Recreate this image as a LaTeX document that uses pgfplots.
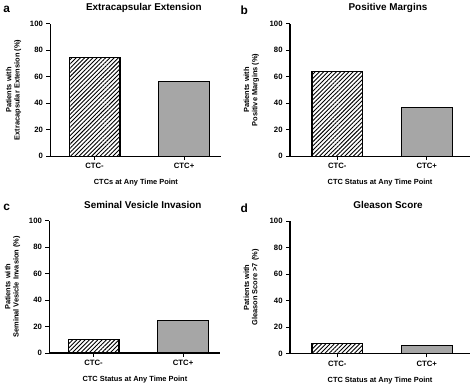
\documentclass[border=0pt]{standalone}
\usepackage{pgfplots}
\pgfplotsset{compat=1.18}
\usepackage{fontspec}
\setmainfont{Liberation Sans}
\usetikzlibrary{patterns.meta}
\definecolor{bargray}{HTML}{A6A6A6}
\pgfplotsset{
  panel/.style={
    scale only axis,
    height=133bp,
    axis lines=left,
    axis line style={-, line width=1.2bp},
    enlargelimits=false,
    ymin=0, ymax=100,
    ytick={0,20,40,60,80,100},
    xtick={1,2},
    xticklabels={CTC-,CTC+},
    tick align=outside,
    major tick length=4bp,
    tick style={line width=1bp, black},
    ybar, bar width=51bp, bar shift=0pt,
    /pgf/number format/assume math mode=true,
    ticklabel style={font=\fontsize{7.8}{9}\selectfont\bfseries},
    label style={font=\fontsize{7.5}{8.4}\selectfont\bfseries},
    ylabel style={align=center, at={(axis description cs:-0.215,0.5)}, anchor=center, rotate=0},
    xlabel style={at={(axis description cs:0.5,0)}, anchor=center, yshift=-27bp},
    title style={font=\fontsize{10}{11}\selectfont\bfseries, at={(axis description cs:0.5,1)}, anchor=center, yshift=10bp, xshift=8bp},
  },
  narrow/.style={width=172bp, xmin=0.506, xmax=2.417},
  wide/.style={width=181bp, xmin=0.472, xmax=2.483},
  hatchbar/.style={draw=black, line width=1.2bp, pattern={Lines[angle=45,distance=3bp,line width=0.9bp]}},
  graybar/.style={draw=black, line width=1.2bp, fill=bargray},
}
\begin{document}
\begin{tikzpicture}
\path (0,0) rectangle (474bp,-384bp);
% a
\begin{axis}[panel, narrow, at={(48bp,-154bp)}, anchor=origin,
  title={Extracapsular Extension},
  ylabel={Patients with\\Extracapsular Extension (\%)},
  xlabel={CTCs at Any Time Point}]
\addplot[hatchbar] coordinates {(1,74.4)};
\addplot[graybar] coordinates {(2,56.2)};
\end{axis}
% b
\begin{axis}[panel, wide, at={(289bp,-154bp)}, anchor=origin,
  title={Positive Margins},
  ylabel={Patients with\\Positive Margins (\%)},
  xlabel={CTC Status at Any Time Point}]
\addplot[hatchbar] coordinates {(1,63.8)};
\addplot[graybar] coordinates {(2,36.8)};
\end{axis}
% c
\begin{axis}[panel, narrow, at={(47bp,-352bp)}, anchor=origin,
  title={Seminal Vesicle Invasion},
  ylabel={Patients with\\Seminal Vesicle Invasion (\%)},
  xlabel={CTC Status at Any Time Point}]
\addplot[hatchbar] coordinates {(1,10)};
\addplot[graybar] coordinates {(2,24.8)};
\end{axis}
% d
\begin{axis}[panel, wide, at={(289bp,-352.5bp)}, anchor=origin,
  title={Gleason Score},
  ylabel={Patients with\\Gleason Score >7 (\%)},
  xlabel={CTC Status at Any Time Point}]
\addplot[hatchbar] coordinates {(1,7.4)};
\addplot[graybar] coordinates {(2,6.2)};
\end{axis}
\node[font=\fontsize{12}{13}\selectfont\bfseries, anchor=center] at (4bp,-6bp) {a};
\node[font=\fontsize{12}{13}\selectfont\bfseries, anchor=center] at (243bp,-7bp) {b};
\node[font=\fontsize{12}{13}\selectfont\bfseries, anchor=center] at (4bp,-206bp) {c};
\node[font=\fontsize{12}{13}\selectfont\bfseries, anchor=center] at (243bp,-206bp) {d};
\end{tikzpicture}
\end{document}
